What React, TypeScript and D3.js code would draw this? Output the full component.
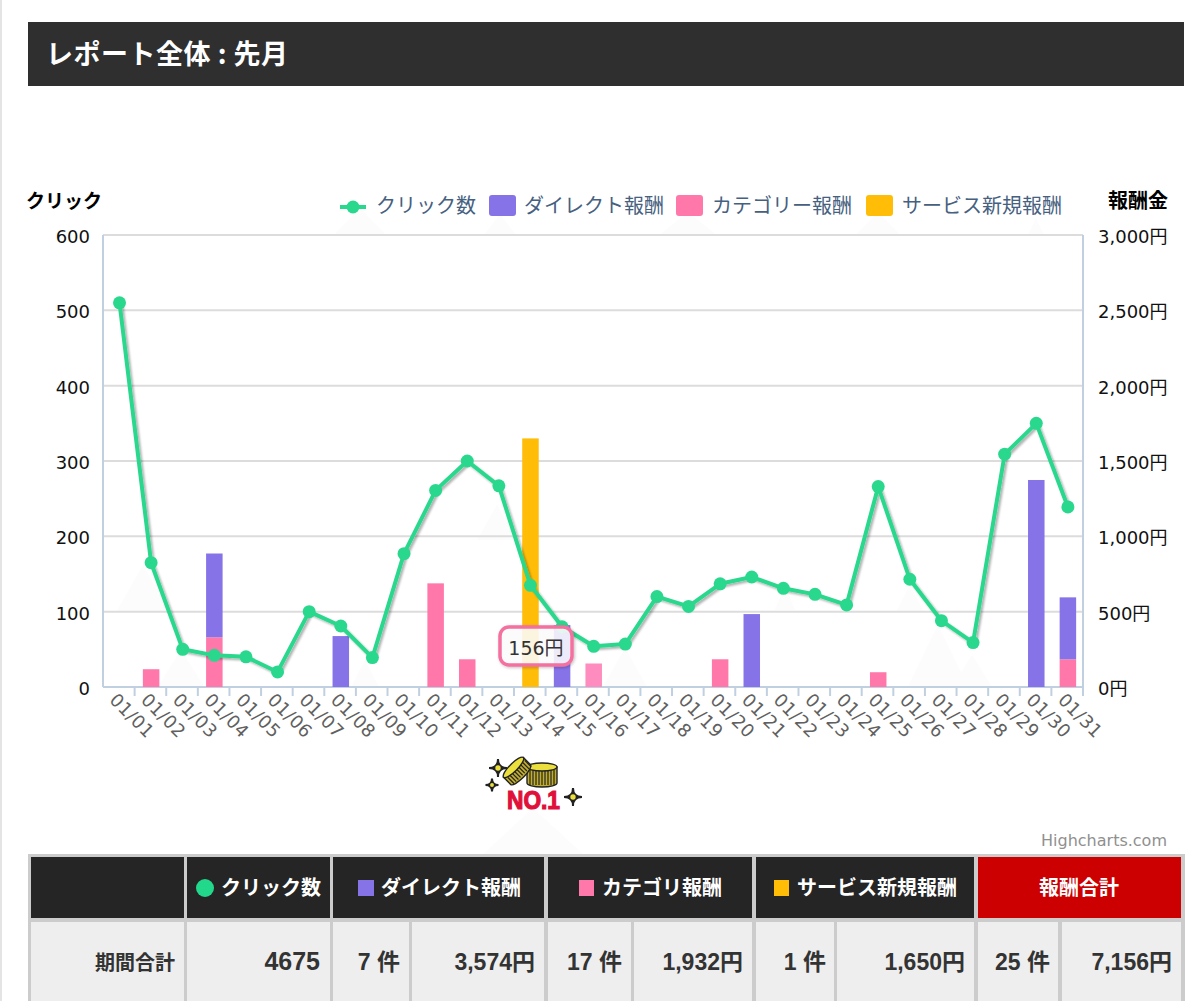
import React, { useEffect, useRef } from "react";
import * as d3 from "d3";

const WIDTH = 1200;
const HEIGHT = 1001;

const days: string[] = [
  "01/01", "01/02", "01/03", "01/04", "01/05", "01/06", "01/07", "01/08",
  "01/09", "01/10", "01/11", "01/12", "01/13", "01/14", "01/15", "01/16",
  "01/17", "01/18", "01/19", "01/20", "01/21", "01/22", "01/23", "01/24",
  "01/25", "01/26", "01/27", "01/28", "01/29", "01/30", "01/31",
];
const clicks: number[] = [
  510, 165, 50, 42, 40, 20, 100, 81, 39, 177, 261, 300, 267, 135, 80, 54,
  57, 120, 107, 137, 146, 131, 123, 109, 266, 143, 88, 59, 309, 350, 239,
];
const direct: number[] = [
  0, 0, 0, 556, 0, 0, 0, 338, 0, 0, 0, 0, 0, 0, 411, 0,
  0, 0, 0, 0, 484, 0, 0, 0, 0, 0, 0, 0, 0, 1374, 411,
];
const category: number[] = [
  0, 118, 0, 330, 0, 0, 0, 0, 0, 0, 688, 184, 0, 0, 0, 156,
  0, 0, 0, 184, 0, 0, 0, 0, 98, 0, 0, 0, 0, 0, 184,
];
const service: number[] = [
  0, 0, 0, 0, 0, 0, 0, 0, 0, 0, 0, 0, 0, 1650, 0, 0,
  0, 0, 0, 0, 0, 0, 0, 0, 0, 0, 0, 0, 0, 0, 0,
];
const clickTicks: number[] = [0, 100, 200, 300, 400, 500, 600];
const yenTicks: number[] = [0, 500, 1000, 1500, 2000, 2500, 3000];

const GREEN = "#2ad88d";
const PURPLE = "#8673e8";
const PINK = "#ff78a9";
const ORANGE = "#ffbd08";
const JP = "'Noto Sans CJK JP', sans-serif";
const LATIN = "'DejaVu Sans', 'Noto Sans CJK JP', sans-serif";
const TABLE_NUM = "'Liberation Sans', 'Noto Sans CJK JP', sans-serif";

const App: React.FC = () => {
  const ref = useRef<SVGSVGElement | null>(null);

  useEffect(() => {
    if (!ref.current) return;
    const svg = d3.select(ref.current);
    svg.selectAll("*").remove();

    // ページ枠とヘッダー
    svg.append("rect").attr("x", 0).attr("y", 0).attr("width", 2).attr("height", HEIGHT).attr("fill", "#e4e4e4");
    svg.append("rect").attr("x", 28).attr("y", 22).attr("width", 1156).attr("height", 64).attr("fill", "#2f2f2f");
    svg.append("text").attr("x", 46).attr("y", 64).attr("fill", "#fff").attr("letter-spacing", 0.5)
      .style("font", `bold 27px ${JP}`).text("レポート全体 : 先月");

    const defs = svg.append("defs");
    defs.append("filter").attr("id", "lineShadow").attr("x", "-5%").attr("y", "-5%").attr("width", "110%").attr("height", "110%")
      .append("feDropShadow").attr("dx", 2).attr("dy", 2).attr("stdDeviation", 1.2)
      .attr("flood-color", "#000").attr("flood-opacity", 0.3);
    defs.append("filter").attr("id", "tipShadow").attr("x", "-20%").attr("y", "-20%").attr("width", "140%").attr("height", "140%")
      .append("feDropShadow").attr("dx", 1).attr("dy", 1).attr("stdDeviation", 1.5)
      .attr("flood-color", "#000").attr("flood-opacity", 0.25);

    // うっすら見える三角形の透かし
    const ghosts: [number, number, number, number][] = [
      [360, 208, 235, 26], [500, 214, 235, 16], [688, 212, 235, 28], [878, 212, 235, 22], [1036, 218, 235, 8],
      [143, 565, 611, 26], [181, 650, 688, 24], [497, 505, 540, 20], [625, 648, 687, 22], [785, 585, 610, 10],
      [910, 585, 612, 14], [938, 625, 687, 30], [972, 655, 687, 20], [533, 808, 854, 50], [365, 660, 687, 14],
    ];
    svg.append("g").selectAll("path").data(ghosts).enter().append("path")
      .attr("d", (d) => `M${d[0]},${d[1]}L${d[0] + d[3]},${d[2]}L${d[0] - d[3]},${d[2]}Z`)
      .attr("fill", "#fcfcfc");

    // スケール
    const plot = { left: 103, right: 1083, top: 235, bottom: 687 };
    const x = d3.scaleBand<string>().domain(days).range([plot.left, plot.right]);
    const yClick = d3.scaleLinear().domain([0, 600]).range([plot.bottom, plot.top]);
    const yYen = d3.scaleLinear().domain([0, 3000]).range([plot.bottom, plot.top]);
    const cx = (d: string) => (x(d) || 0) + x.bandwidth() / 2 + 0.7;

    // グリッド
    svg.append("g").selectAll("line").data(clickTicks.slice(1)).enter().append("line")
      .attr("x1", plot.left).attr("x2", plot.right)
      .attr("y1", (d) => yClick(d)).attr("y2", (d) => yClick(d))
      .attr("stroke", "#dcdcdc").attr("stroke-width", 2);

    // 軸線
    const axisColor = "#c0d0e0";
    const axisG = svg.append("g").attr("stroke", axisColor).attr("stroke-width", 2);
    axisG.append("line").attr("x1", plot.left).attr("x2", plot.left).attr("y1", plot.top).attr("y2", plot.bottom);
    axisG.append("line").attr("x1", plot.right).attr("x2", plot.right).attr("y1", plot.top).attr("y2", plot.bottom);
    axisG.append("line").attr("x1", plot.left).attr("x2", plot.right).attr("y1", plot.bottom).attr("y2", plot.bottom);
    axisG.selectAll(".tick").data(days).enter().append("line").attr("class", "tick")
      .attr("x1", (d) => (x(d) || 0) + x.bandwidth()).attr("x2", (d) => (x(d) || 0) + x.bandwidth())
      .attr("y1", plot.bottom).attr("y2", plot.bottom + 9);

    // 積み上げ棒
    const rows = days.map((d, i) => ({ day: d, i, service: service[i], category: category[i], direct: direct[i] }));
    const stack = d3.stack<any>().keys(["service", "category", "direct"]);
    const colors: Record<string, string> = { service: ORANGE, category: PINK, direct: PURPLE };
    const barW = 16.5;
    stack(rows).forEach((layer) => {
      svg.append("g").selectAll("rect").data(layer.filter((s) => s[1] > s[0])).enter().append("rect")
        .attr("x", (s) => cx(s.data.day) - barW / 2)
        .attr("width", barW)
        .attr("y", (s) => yYen(s[1]))
        .attr("height", (s) => yYen(s[0]) - yYen(s[1]))
        .attr("fill", (s) => (layer.key === "category" && s.data.day === "01/16" ? "#ff8cbe" : colors[layer.key]));
    });

    // クリック数の折れ線
    const line = d3.line<number>().x((_, i) => cx(days[i])).y((d) => yClick(d));
    svg.append("path").attr("d", line(clicks)).attr("fill", "none")
      .attr("stroke", GREEN).attr("stroke-width", 4).attr("stroke-linejoin", "round")
      .attr("filter", "url(#lineShadow)");
    svg.append("g").selectAll("circle").data(clicks).enter().append("circle")
      .attr("cx", (_, i) => cx(days[i])).attr("cy", (d) => yClick(d)).attr("r", 6.5).attr("fill", GREEN);

    // 軸ラベル
    svg.append("g").selectAll("text").data(clickTicks).enter().append("text")
      .attr("x", 90).attr("y", (d) => yClick(d) + 8).attr("text-anchor", "end").attr("fill", "#111")
      .style("font", `18px ${LATIN}`).text((d) => d);
    const fmt = d3.format(",");
    svg.append("g").selectAll("text").data(yenTicks).enter().append("text")
      .attr("x", 1098).attr("y", (d) => yYen(d) + 8).attr("fill", "#111")
      .style("font", `18px ${LATIN}`).text((d) => `${fmt(d)}円`);
    svg.append("g").selectAll("text").data(days).enter().append("text")
      .attr("transform", (d) => `translate(${cx(d) - 11},${plot.bottom + 14}) rotate(45)`)
      .attr("fill", "#606060").attr("letter-spacing", 0.4).style("font", `18px ${LATIN}`).text((d) => d);

    svg.append("text").attr("x", 26).attr("y", 208).attr("fill", "#000")
      .style("font", `bold 19px ${JP}`).text("クリック");
    svg.append("text").attr("x", 1108).attr("y", 208).attr("fill", "#000")
      .style("font", `bold 20px ${JP}`).text("報酬金");

    // 凡例
    const legendColor = "#466080";
    const legendText = (tx: number, label: string) =>
      svg.append("text").attr("x", tx).attr("y", 213).attr("fill", legendColor)
        .style("font", `20px ${JP}`).text(label);
    svg.append("line").attr("x1", 340).attr("x2", 366).attr("y1", 207).attr("y2", 207).attr("stroke", GREEN).attr("stroke-width", 4);
    svg.append("circle").attr("cx", 353).attr("cy", 207).attr("r", 6.5).attr("fill", GREEN);
    legendText(376, "クリック数");
    const swatches: [number, string, number, string][] = [
      [489, PURPLE, 524, "ダイレクト報酬"],
      [676, PINK, 712, "カテゴリー報酬"],
      [866, ORANGE, 902, "サービス新規報酬"],
    ];
    swatches.forEach(([sx, color, tx, label]) => {
      svg.append("rect").attr("x", sx).attr("y", 195).attr("width", 27).attr("height", 21).attr("rx", 3).attr("fill", color);
      legendText(tx, label);
    });

    // ツールチップ
    svg.append("rect").attr("x", 500).attr("y", 627).attr("width", 72).attr("height", 38).attr("rx", 9)
      .attr("fill", "#fff").attr("fill-opacity", 0.85).attr("stroke", "#f3709f").attr("stroke-width", 3.5)
      .attr("filter", "url(#tipShadow)");
    svg.append("text").attr("x", 536).attr("y", 655).attr("text-anchor", "middle").attr("fill", "#333")
      .style("font", `19px ${LATIN}`).text("156円");

    // NO.1 アイコン
    const badge = svg.append("g");
    const coin = (ccx: number, ccy: number, rx: number, ry: number, rot: number) => {
      const g = badge.append("g").attr("transform", `translate(${ccx},${ccy}) rotate(${rot})`);
      g.append("path")
        .attr("d", `M${-rx},${-ry}V${ry}A${rx},4 0 0 0 ${rx},${ry}V${-ry}Z`)
        .attr("fill", "#c2ae2e").attr("stroke", "#222").attr("stroke-width", 1.4);
      // 側面のギザギザ
      d3.range(-rx + 3, rx, 3).forEach((sx) => {
        g.append("line").attr("x1", sx).attr("x2", sx).attr("y1", -ry + 3).attr("y2", ry + 2)
          .attr("stroke", "#222").attr("stroke-width", 1.2);
      });
      g.append("ellipse").attr("cx", 0).attr("cy", -ry).attr("rx", rx).attr("ry", 4)
        .attr("fill", "#eadf3c").attr("stroke", "#222").attr("stroke-width", 1.4);
    };
    coin(542, 775, 15, 8, 0);
    coin(517, 771, 14, 5, -45);
    const star = (sx: number, sy: number, r: number) => {
      badge.append("path")
        .attr("d", `M${sx},${sy - r}Q${sx},${sy} ${sx + r},${sy}Q${sx},${sy} ${sx},${sy + r}Q${sx},${sy} ${sx - r},${sy}Q${sx},${sy} ${sx},${sy - r}Z`)
        .attr("fill", "#222").attr("stroke", "#222").attr("stroke-width", 2);
      badge.append("circle").attr("cx", sx).attr("cy", sy).attr("r", r * 0.3).attr("fill", "#eadf3c");
    };
    star(498, 768, 9);
    star(492, 785, 6.5);
    star(573, 797, 9);
    badge.append("text").attr("x", 507).attr("y", 809).attr("fill", "#e0103a")
      .attr("stroke", "#e0103a").attr("stroke-width", 1.2)
      .attr("textLength", 53).attr("lengthAdjust", "spacingAndGlyphs")
      .style("font", `bold 26px 'Liberation Sans', sans-serif`).text("NO.1");

    svg.append("text").attr("x", 1167).attr("y", 846).attr("text-anchor", "end").attr("fill", "#909090")
      .style("font", `16px 'DejaVu Sans', sans-serif`).text("Highcharts.com");

    // テーブル
    svg.append("rect").attr("x", 28).attr("y", 854).attr("width", 1157).attr("height", 147).attr("fill", "#ccc");
    const headCells: [number, number, string][] = [
      [31, 184, "#252525"], [187, 330, "#252525"], [333, 544, "#252525"],
      [548, 752, "#252525"], [756, 974, "#252525"], [978, 1181, "#cc0000"],
    ];
    svg.append("g").selectAll("rect").data(headCells).enter().append("rect")
      .attr("x", (d) => d[0]).attr("y", 857).attr("width", (d) => d[1] - d[0]).attr("height", 61)
      .attr("fill", (d) => d[2]);
    const bodyCells: [number, number][] = [
      [31, 184], [187, 330], [333, 409], [412, 544], [548, 631], [634, 752],
      [756, 834], [837, 974], [978, 1058], [1062, 1181],
    ];
    svg.append("g").selectAll("rect").data(bodyCells).enter().append("rect")
      .attr("x", (d) => d[0]).attr("y", 922).attr("width", (d) => d[1] - d[0]).attr("height", 79)
      .attr("fill", "#eee");

    const headLabels: [number, string][] = [
      [221, "クリック数"], [381, "ダイレクト報酬"], [602, "カテゴリ報酬"], [797, "サービス新規報酬"], [1039, "報酬合計"],
    ];
    headLabels.forEach(([tx, label]) => {
      svg.append("text").attr("x", tx).attr("y", 895).attr("fill", "#fff")
        .style("font", `bold 20px ${JP}`).text(label);
    });
    svg.append("circle").attr("cx", 205).attr("cy", 888).attr("r", 9).attr("fill", "#22d88b");
    svg.append("rect").attr("x", 358).attr("y", 880).attr("width", 16).attr("height", 16).attr("fill", PURPLE);
    svg.append("rect").attr("x", 579).attr("y", 880).attr("width", 15).attr("height", 16).attr("fill", PINK);
    svg.append("rect").attr("x", 774).attr("y", 880).attr("width", 15).attr("height", 16).attr("fill", ORANGE);

    const bodyLabels: [number, string][] = [
      [175, "期間合計"], [320, "4675"], [400, "7 件"], [535, "3,574円"], [622, "17 件"],
      [743, "1,932円"], [826, "1 件"], [965, "1,650円"], [1050, "25 件"], [1172, "7,156円"],
    ];
    svg.append("g").selectAll("text").data(bodyLabels).enter().append("text")
      .attr("x", (d) => d[0]).attr("y", 970).attr("text-anchor", "end").attr("fill", "#333")
      .style("font", (d) => {
        if (d[1] === "期間合計") return `bold 20px ${JP}`;
        if (d[1] === "4675") return `bold 25px ${TABLE_NUM}`;
        return `bold 23px ${TABLE_NUM}`;
      })
      .text((d) => d[1]);
  }, []);

  return <svg ref={ref} width={WIDTH} height={HEIGHT} style={{ position: "absolute", left: 0, top: 0, background: "#fff" }} />;
};

export default App;
